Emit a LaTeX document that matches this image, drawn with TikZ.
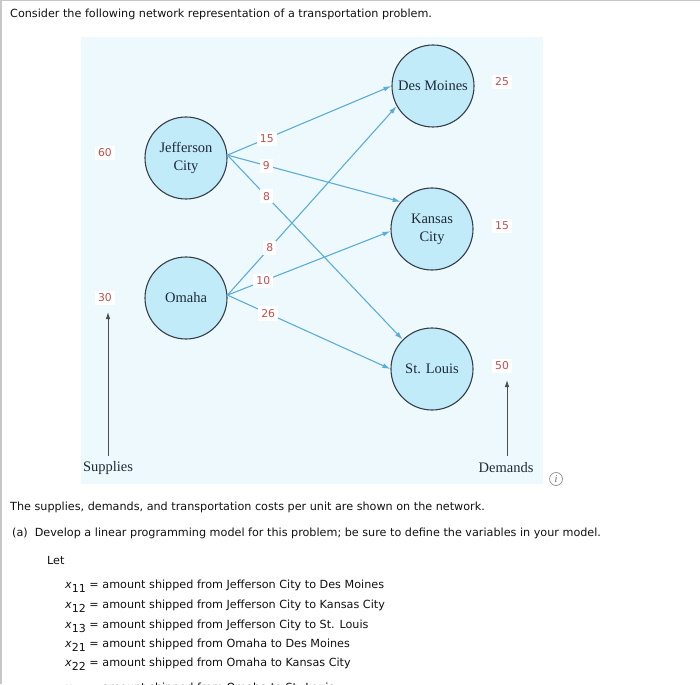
\documentclass[tikz,border=0pt]{standalone}
\usepackage{fontspec}
\setmainfont{Liberation Serif}
\newfontfamily\vfont{DejaVu Sans}
\usetikzlibrary{arrows.meta}
\definecolor{bgblue}{HTML}{EEF9FD}
\definecolor{nodefill}{HTML}{C2EBF9}
\definecolor{edgeblue}{HTML}{5AADDA}
\definecolor{costred}{HTML}{C0504D}
\definecolor{inkdark}{HTML}{1E2A36}
\definecolor{bodytext}{HTML}{111111}
\tikzset{
  city/.style={circle,draw=inkdark!90,line width=1.1pt,fill=nodefill,minimum size=82pt,inner sep=0pt,align=center,text=inkdark,font=\fontsize{14.5}{14.5}\selectfont},
  edge/.style={draw=edgeblue,line width=1.1pt,-{Latex[length=8pt,width=5pt]}},
  cost/.style={fill=white,inner sep=3pt,text=costred,font=\vfont\fontsize{10.8}{11}\selectfont},
  supline/.style={draw=black!70,line width=0.9pt,-{Latex[length=7pt,width=4.5pt]}},
  caption/.style={text=inkdark,font=\fontsize{14.5}{14.5}\selectfont},
  body/.style={anchor=west,inner sep=0pt,text=bodytext,font=\vfont\fontsize{11.2}{12}\selectfont},
}
\newcommand{\xv}[1]{\textit{x}\raisebox{-4pt}{\fontsize{11}{11}\selectfont #1}}
\begin{document}
\begin{tikzpicture}[x=1pt,y=-1pt]
\useasboundingbox (0,0) rectangle (700,684);
\draw[black!22,line width=1.5pt] (0.75,684) -- (0.75,0.75) -- (700,0.75);
% panel
\fill[bgblue] (81,37) rectangle (543,484);
% cities
\node[city] (jc) at (186,158) {Jefferson\\[3.5pt]City};
\node[city] (om) at (186,298) {Omaha};
\node[city] (dm) at (433,86) {Des Moines};
\node[city] (kc) at (432,229) {Kansas\\[3.5pt]City};
\node[city] (sl) at (432,369) {St. Louis};
% edges
\draw[edge] (jc.4) -- node[cost,pos=0.24]{15} (dm.180);
\draw[edge] (jc.4) -- node[cost,pos=0.225]{9} (kc.139);
\draw[edge] (jc.4) -- node[cost,pos=0.223]{8} (sl.135);
\draw[edge] (om.4) -- node[cost,pos=0.25]{8} (dm.209);
\draw[edge] (om.4) -- node[cost,pos=0.22]{10} (kc.183);
\draw[edge] (om.4) -- node[cost,pos=0.25]{26} (sl.180);
% supplies / demands
\node[cost] (s1) at (105,153) {60};
\node[cost] (s2) at (105,298) {30};
\node[cost] (d1) at (502,82) {25};
\node[cost] (d2) at (502,226) {15};
\node[cost] (d3) at (502,366) {50};
\coordinate (sbot) at (108,456);
\coordinate (stip) at (108,312);
\coordinate (dbot) at (507,456);
\coordinate (dtip) at (507,380);
\draw[supline] (sbot) -- (stip);
\draw[supline] (dbot) -- (dtip);
\node[caption] (sup) at (108,468) {Supplies};
\node[caption] (dem) at (506,468) {Demands};
\node[circle,draw=black!45,line width=0.7pt,minimum size=13pt,inner sep=0pt,text=black!60,font=\fontsize{10.5}{10.5}\selectfont\itshape] (info) at (556,479) {i};
% text
\node[body] (t0) at (10,14) {Consider the following network representation of a transportation problem.};
\node[body] (t1) at (10,507) {The supplies, demands, and transportation costs per unit are shown on the network.};
\node[body] (t2) at (12,533) {(a)\hspace{7pt}Develop a linear programming model for this problem; be sure to define the variables in your model.};
\node[body] (t3) at (47,560) {Let};
\node[body] (v1) at (65,586) {\xv{11} = amount shipped from Jefferson City to Des Moines};
\node[body] (v2) at (65,606) {\xv{12} = amount shipped from Jefferson City to Kansas City};
\node[body] (v3) at (65,626) {\xv{13} = amount shipped from Jefferson City to St. Louis};
\node[body] (v4) at (65,645) {\xv{21} = amount shipped from Omaha to Des Moines};
\node[body] (v5) at (65,664) {\xv{22} = amount shipped from Omaha to Kansas City};
\node[body] (v6) at (65,689) {\xv{23} = amount shipped from Omaha to St. Louis};
\end{tikzpicture}
\end{document}
